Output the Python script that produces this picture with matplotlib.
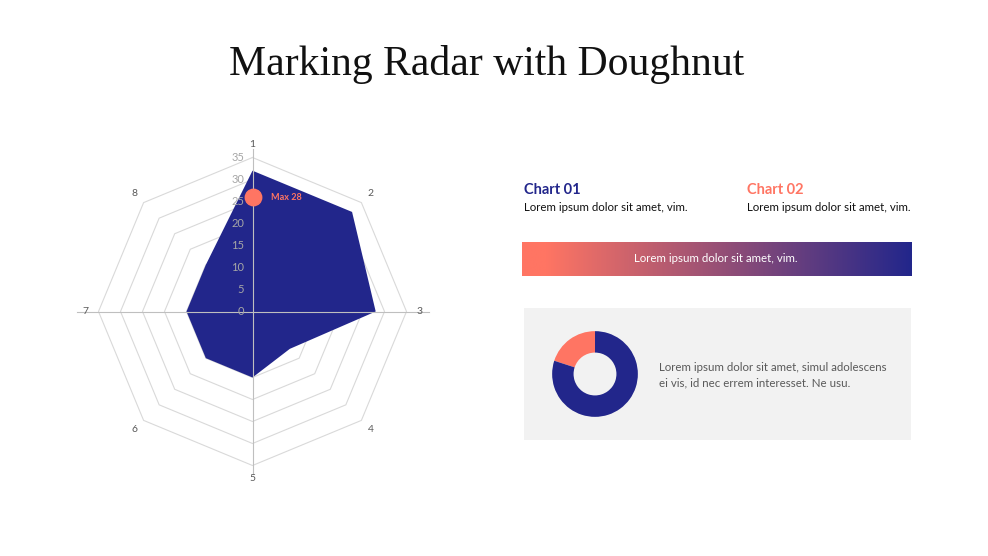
import matplotlib
matplotlib.use('Agg')
import matplotlib.pyplot as plt
import numpy as np
from matplotlib.colors import LinearSegmentedColormap

NAVY = '#22268b'
CORAL = '#ff7563'

# radar data
axis_labels = ['1', '2', '3', '4', '5', '6', '7', '8']
radar_values = [32, 32, 28, 12, 15, 15, 15, 15]
ring_levels = [5, 10, 15, 20, 25, 30, 35]
tick_levels = [0, 5, 10, 15, 20, 25, 30, 35]
max_point = 26          # where the marker sits on axis 1
max_label = 'Max 28'

# doughnut data
donut_values = [20, 80]
donut_colors = [CORAL, NAVY]

# texts
title = 'Marking Radar with Doughnut'
heads = ['Chart 01', 'Chart 02']
head_colors = [NAVY, CORAL]
sub_text = 'Lorem ipsum dolor sit amet, vim.'
bar_text = 'Lorem ipsum dolor sit amet, vim.'
donut_text = 'Lorem ipsum dolor sit amet, simul adolescens\nei vis, id nec errem interesset. Ne usu.'

W, H = 988, 556
fig = plt.figure(figsize=(W / 100, H / 100), dpi=100)
fig.patch.set_facecolor('white')

# full-figure pixel overlay for the right-hand panels
bg = fig.add_axes([0, 0, 1, 1])
bg.set_xlim(0, W)
bg.set_ylim(H, 0)
bg.axis('off')

bg.text(486.5, 64, title, ha='center', va='center', fontsize=30,
        family='Liberation Serif', color='#111111')

for x, head, col in zip([524, 747], heads, head_colors):
    bg.text(x, 190.5, head, ha='left', va='center', fontsize=10.5,
            fontweight='bold', family='Lato', color=col)
    bg.text(x, 207.5, sub_text, ha='left', va='center', fontsize=8.3,
            family='Lato', color='#111111')

# gradient bar
cmap = LinearSegmentedColormap.from_list('grad', [(0, CORAL), (0.06, CORAL), (1, NAVY)])
grad = np.linspace(0, 1, 256).reshape(1, -1)
bg.imshow(grad, cmap=cmap, aspect='auto', extent=[522, 911, 275.7, 241.7], zorder=1)
bg.set_xlim(0, W)
bg.set_ylim(H, 0)
bg.text(716, 258.5, bar_text, ha='center', va='center', fontsize=8.3,
        family='Lato', color='white', zorder=2)

# gray box
bg.add_patch(plt.Rectangle((524, 308), 387, 132, facecolor='#f2f2f2',
                           edgecolor='none', zorder=0))
bg.text(659, 375, donut_text, ha='left', va='center', fontsize=8.3,
        family='Lato', color='#595959', linespacing=1.45)

# doughnut
d = 90
dax = fig.add_axes([(595 - d / 2) / W, (H - 374 - d / 2) / H, d / W, d / H])
dax.pie(donut_values, colors=donut_colors, startangle=90, radius=1,
        wedgeprops=dict(width=0.5, edgecolor='none'))
dax.set_xlim(-1.05, 1.05)
dax.set_ylim(-1.05, 1.05)
dax.set_aspect('equal')
dax.axis('off')

# radar
rmax = 40
pr = 4.4 * rmax
cx, cy = 252.5, 311.5
ax = fig.add_axes([(cx - pr) / W, (H - cy - pr) / H, 2 * pr / W, 2 * pr / H],
                  projection='polar')
ax.set_theta_zero_location('N')
ax.set_theta_direction(-1)
ax.set_ylim(0, rmax)
ax.axis('off')

n = len(axis_labels)
angles = np.arange(n) * 2 * np.pi / n
closed = np.append(angles, angles[0])

for lvl in ring_levels:
    ax.plot(closed, [lvl] * (n + 1), color='#d9d9d9', lw=0.8, zorder=1)

vals = np.append(radar_values, radar_values[0])
ax.fill(closed, vals, color=NAVY, zorder=2, lw=0)

for th, r in [(0, 37), (np.pi, 37), (np.pi / 2, 40), (3 * np.pi / 2, 40)]:
    ax.plot([th, th], [0, r], color='#bfbfbf', lw=0.8, zorder=3, clip_on=False)

for lvl in tick_levels:
    ax.annotate(str(lvl), xy=(0, lvl), xytext=(-6, 0), textcoords='offset points',
                ha='right', va='center', fontsize=8, color='#a6a6a6',
                family='Lato', zorder=4)

for th, lab in zip(angles, axis_labels):
    ax.text(th, 38, lab, ha='center', va='center', fontsize=7.5,
            color='#595959', family='Lato', clip_on=False)

ax.scatter([0], [max_point], s=140, color=CORAL, zorder=5, clip_on=False)
ax.annotate(max_label, xy=(0, max_point), xytext=(13, 0), textcoords='offset points',
            ha='left', va='center', fontsize=6.5, fontweight='bold',
            color=CORAL, family='Lato', zorder=5)

fig.savefig('out.png', dpi=100, facecolor='white')
